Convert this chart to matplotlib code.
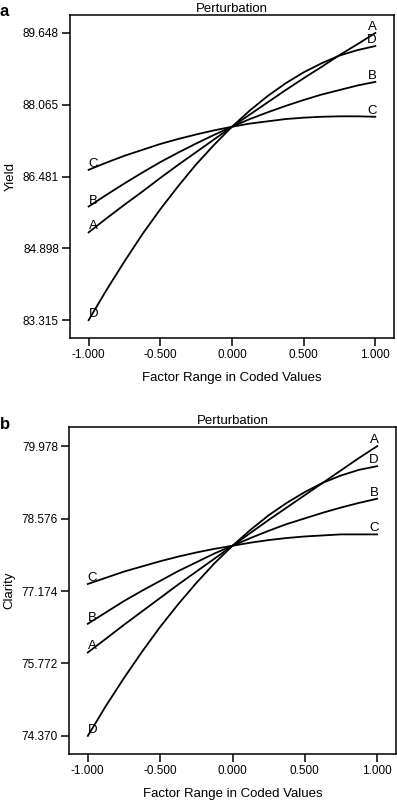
import matplotlib
matplotlib.use("Agg")
import matplotlib.pyplot as plt

plt.rcParams['font.family'] = ['Liberation Sans', 'DejaVu Sans']

# coded factor levels (read every 0.125)
x = [-1.0, -0.875, -0.75, -0.625, -0.5, -0.375, -0.25, -0.125, 0.0,
     0.125, 0.25, 0.375, 0.5, 0.625, 0.75, 0.875, 1.0]

# panel a - Yield
yield_A = [85.25, 85.56, 85.86, 86.15, 86.45, 86.74, 87.02, 87.30, 87.58,
           87.85, 88.12, 88.39, 88.65, 88.90, 89.16, 89.40, 89.648]
yield_B = [85.82, 86.08, 86.33, 86.57, 86.80, 87.01, 87.21, 87.40, 87.58,
           87.75, 87.90, 88.04, 88.17, 88.29, 88.39, 88.49, 88.57]
yield_C = [86.63, 86.79, 86.94, 87.07, 87.20, 87.31, 87.41, 87.50, 87.58,
           87.65, 87.70, 87.75, 87.78, 87.80, 87.81, 87.81, 87.80]
yield_D = [83.315, 83.98, 84.61, 85.21, 85.76, 86.27, 86.75, 87.18, 87.58,
           87.94, 88.26, 88.54, 88.78, 88.98, 89.15, 89.27, 89.36]
yield_ticks = [83.315, 84.898, 86.481, 88.065, 89.648]

# panel b - Clarity
clar_A = [75.985, 76.25, 76.52, 76.78, 77.04, 77.30, 77.55, 77.80, 78.05,
          78.30, 78.55, 78.79, 79.03, 79.27, 79.51, 79.75, 79.978]
clar_B = [76.54, 76.76, 76.98, 77.18, 77.37, 77.56, 77.73, 77.90, 78.05,
          78.20, 78.34, 78.47, 78.58, 78.69, 78.79, 78.88, 78.96]
clar_C = [77.31, 77.43, 77.55, 77.65, 77.75, 77.84, 77.92, 77.99, 78.05,
          78.11, 78.16, 78.20, 78.23, 78.25, 78.27, 78.27, 78.27]
clar_D = [74.370, 74.95, 75.49, 76.00, 76.48, 76.92, 77.33, 77.71, 78.05,
          78.36, 78.64, 78.88, 79.09, 79.27, 79.41, 79.52, 79.59]
clar_ticks = [74.370, 75.772, 77.174, 78.576, 79.978]

x_ticks = [-1.0, -0.5, 0.0, 0.5, 1.0]
names = ['A', 'B', 'C', 'D']

fig = plt.figure(figsize=(3.97, 8.01), dpi=100)


def panel(ax, series, yticks, ylim, ylabel):
    for ys, nm in zip(series, names):
        ax.plot(x, ys, color='black', lw=1.3)
        ax.text(x[0], ys[0], nm, ha='left', va='bottom', fontsize=9.5)
        ax.text(x[-1] + 0.01, ys[-1], nm, ha='right', va='bottom', fontsize=9.5)
    ax.set_xlim(-1.13, 1.13)
    ax.set_ylim(*ylim)
    ax.set_xticks(x_ticks)
    ax.set_xticklabels(['%.3f' % v for v in x_ticks])
    ax.set_yticks(yticks)
    ax.set_yticklabels(['%.3f' % v for v in yticks])
    ax.tick_params(direction='out', length=5.5, width=1.1, labelsize=8.5, pad=2.5)
    for s in ax.spines.values():
        s.set_linewidth(1.1)
    ax.set_xlabel('Factor Range in Coded Values', fontsize=9.5, labelpad=8)
    ax.set_ylabel(ylabel, fontsize=9.5)
    ax.yaxis.set_label_coords(-0.165, 0.5)
    ax.set_title('Perturbation', fontsize=9.5, pad=2)


ax1 = fig.add_axes([0.1763, 0.578, 0.816, 0.403])
panel(ax1, [yield_A, yield_B, yield_C, yield_D], yield_ticks, (82.92, 90.04), 'Yield')

ax2 = fig.add_axes([0.1738, 0.0587, 0.8237, 0.408])
panel(ax2, [clar_A, clar_B, clar_C, clar_D], clar_ticks, (74.02, 80.345), 'Clarity')

fig.text(0.0, 1 - 12 / 801, 'a', fontsize=12, fontweight='bold', ha='left', va='center')
fig.text(0.0, 1 - 425 / 801, 'b', fontsize=12, fontweight='bold', ha='left', va='center')

fig.savefig('out.png', dpi=100)
